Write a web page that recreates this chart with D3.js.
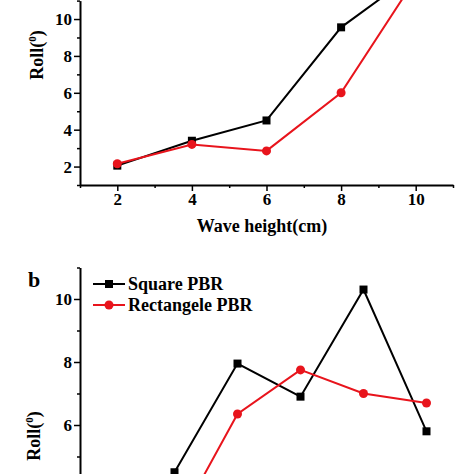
<!DOCTYPE html>
<html><head><meta charset="utf-8">
<script src="https://cdn.jsdelivr.net/npm/d3@7"></script>
<style>body{margin:0;background:#fff}svg{display:block}text{font-family:"Liberation Serif","DejaVu Serif",serif;font-weight:bold}</style>
</head><body><svg id="c" width="474" height="474"></svg>
<script>
var waveA = [2, 4, 6, 8, 10];
var squareA = [2.05, 3.4, 4.5, 9.55, 12.5];
var rectA = [2.15, 3.2, 2.85, 6.0, 12.2];
var xTicksA = [2, 4, 6, 8, 10];
var yTicksA = [2, 4, 6, 8, 10];

var waveB = [3, 5, 7, 9, 11];
var squareB = [4.5, 7.95, 6.9, 10.3, 5.8];
var rectB = [2.7, 6.35, 7.75, 7.0, 6.7];
var yTicksB = [6, 8, 10];

var svg = d3.select("#c");

function line(g, xs, ys, x, y, color, marker) {
	var pts = xs.map(function(d, i) { return [x(d), y(ys[i])]; });
	g.append("path").attr("d", d3.line()(pts)).attr("fill", "none")
		.attr("stroke", color).attr("stroke-width", 2);
	pts.forEach(function(p) {
		if (marker == "sq") g.append("rect").attr("x", p[0]-4).attr("y", p[1]-4).attr("width", 8).attr("height", 8).attr("fill", color);
		else g.append("circle").attr("cx", p[0]).attr("cy", p[1]).attr("r", 4.5).attr("fill", color);
	});
}

function styleAxis(g) {
	g.selectAll("path.domain").attr("stroke-width", 2);
	g.selectAll("line").attr("stroke-width", 1.5);
	g.selectAll("text").attr("font-size", 17).attr("font-family", "Liberation Serif").attr("font-weight", "bold");
}

// panel a
var xa = d3.scaleLinear().domain([1, 11]).range([80, 453]);
var ya = d3.scaleLinear().domain([1, 11]).range([185, 0.6]);
var ga = svg.append("g");
var ax = ga.append("g").attr("transform", "translate(0,185)")
	.call(d3.axisBottom(xa).tickValues(d3.range(1, 12)).tickSize(5).tickSizeOuter(0)
		.tickFormat(function(d) { return xTicksA.indexOf(d) >= 0 ? d : ""; }));
ax.selectAll(".tick line").attr("y2", function(d) { return d % 2 ? 3 : 6; });
styleAxis(ax);
var ay = ga.append("g").attr("transform", "translate(80,0)")
	.call(d3.axisLeft(ya).tickValues(d3.range(1, 12)).tickSize(5).tickSizeOuter(0)
		.tickFormat(function(d) { return yTicksA.indexOf(d) >= 0 ? d : ""; }));
ay.selectAll(".tick line").attr("x2", function(d) { return d % 2 ? -3 : -6; });
styleAxis(ay);
line(ga, waveA, squareA, xa, ya, "#000", "sq");
line(ga, waveA, rectA, xa, ya, "#e8141c", "ci");
ga.append("text").attr("x", 262).attr("y", 232).attr("text-anchor", "middle").attr("font-size", 18).text("Wave height(cm)");
ga.append("text").attr("transform", "translate(43,55) rotate(-90)").attr("text-anchor", "middle").attr("font-size", 18)
	.html('Roll(<tspan dy="-7" font-size="11">0</tspan><tspan dy="7">)</tspan>');

// panel b
var xb = d3.scaleLinear().domain([0, 12]).range([80, 458]);
var yb = d3.scaleLinear().domain([4, 11]).range([488, 267.5]);
var gb = svg.append("g");
var by = gb.append("g").attr("transform", "translate(80,0)")
	.call(d3.axisLeft(yb).tickValues(d3.range(4, 12)).tickSize(5).tickSizeOuter(0)
		.tickFormat(function(d) { return yTicksB.indexOf(d) >= 0 ? d : ""; }));
by.selectAll(".tick line").attr("x2", function(d) { return d % 2 ? -3 : -6; });
styleAxis(by);
line(gb, waveB, squareB, xb, yb, "#000", "sq");
line(gb, waveB, rectB, xb, yb, "#e8141c", "ci");
gb.append("text").attr("x", 28).attr("y", 287).attr("font-size", 22).text("b");
gb.append("text").attr("transform", "translate(40,436) rotate(-90)").attr("text-anchor", "middle").attr("font-size", 18)
	.html('Roll(<tspan dy="-7" font-size="11">0</tspan><tspan dy="7">)</tspan>');
var legend = [["Square PBR", "#000", "sq"], ["Rectangele PBR", "#e8141c", "ci"]];
legend.forEach(function(l, i) {
	var y = 284 + i * 21;
	gb.append("line").attr("x1", 93).attr("x2", 125).attr("y1", y).attr("y2", y).attr("stroke", l[1]).attr("stroke-width", 2);
	if (l[2] == "sq") gb.append("rect").attr("x", 105).attr("y", y-4).attr("width", 8).attr("height", 8).attr("fill", l[1]);
	else gb.append("circle").attr("cx", 109).attr("cy", y).attr("r", 4.5).attr("fill", l[1]);
	gb.append("text").attr("x", 128).attr("y", y + 6).attr("font-size", 18).text(l[0]);
});
</script></body></html>
